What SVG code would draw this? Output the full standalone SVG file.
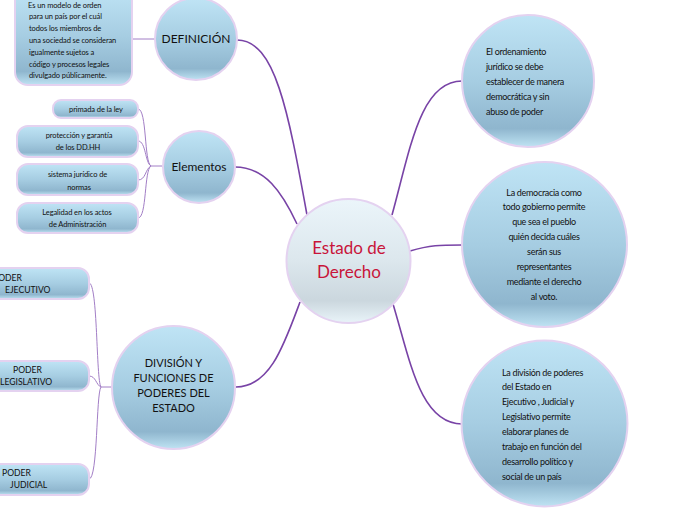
<svg xmlns="http://www.w3.org/2000/svg" width="696" height="520" viewBox="0 0 696 520">
<defs>
<linearGradient id="gBlue" x1="0" y1="0" x2="0" y2="1">
<stop offset="0" stop-color="#bfe4f5"/>
<stop offset="0.5" stop-color="#a6cde2"/>
<stop offset="0.86" stop-color="#8fb6ce"/>
<stop offset="1" stop-color="#bfe3f3"/>
</linearGradient>
<linearGradient id="gCenter" x1="0" y1="0" x2="0" y2="1">
<stop offset="0" stop-color="#ebf5fa"/>
<stop offset="0.5" stop-color="#dce7ed"/>
<stop offset="0.82" stop-color="#cbd7de"/>
<stop offset="1" stop-color="#e9f4f9"/>
</linearGradient>
</defs>
<style>
.node{fill:url(#gBlue);stroke:#e4d2f0;stroke-width:2}
.center{fill:url(#gCenter);stroke:#e4d2f0;stroke-width:2}
.main{fill:none;stroke:#7843a6;stroke-width:1.6}
.sub{fill:none;stroke:#a27ec6;stroke-width:1}
text{font-family:Lato,"Open Sans","Liberation Sans",sans-serif;fill:#111}
.t12{font-size:12px;text-anchor:middle}
.t11{font-size:11px;text-anchor:middle}
.s9{font-size:9px;letter-spacing:-0.3px}
.s75{font-size:7.5px;letter-spacing:-0.1px}
.cap{font-size:8.6px}
.mid{text-anchor:middle}
</style>
<g id="connectors">
<path class="main" d="M237,40 C275,40 288,110 307,215"/>
<path class="main" d="M235,167 C265,167 282,192 297,224"/>
<path class="main" d="M300,302 C284,345 270,387 236,387"/>
<path class="main" d="M392,215 C410,150 420,81 462,81"/>
<path class="main" d="M410,251 C430,245 440,245 462,245"/>
<path class="main" d="M393,304 C410,360 420,424 462,424"/>
<path class="sub" d="M132,39 L156,39"/>
<path class="sub" d="M162,166 L151,166"/>
<path class="sub" d="M138,109 C147,109 144,162 151,166"/>
<path class="sub" d="M138,141 C146,141 145,163 151,166"/>
<path class="sub" d="M138,180 C146,180 145,169 151,166"/>
<path class="sub" d="M138,218 C147,218 144,170 151,166"/>
<path class="sub" d="M112,387 L101,387"/>
<path class="sub" d="M89,283 C98,283 96,380 101,387"/>
<path class="sub" d="M89,376 C96,376 96,385 101,387"/>
<path class="sub" d="M89,479 C98,479 96,394 101,387"/>
</g>
<g id="center">
<circle class="center" cx="348.5" cy="261" r="62"/>
<text x="349" y="254" font-size="17" text-anchor="middle" style="fill:#c8143a">Estado de</text>
<text x="349" y="278" font-size="17" text-anchor="middle" style="fill:#c8143a">Derecho</text>
</g>
<g id="definicion">
<circle class="node" cx="196" cy="39" r="41"/>
<text class="t12" x="196" y="43">DEFINICIÓN</text>
</g>
<g id="definicion-texto">
<rect class="node" x="15" y="-12" width="117" height="97" rx="13"/>
<text class="s75" x="28" y="7.5">Es un modelo de orden</text>
<text class="s75" x="29" y="19.3">para un país por el cuál</text>
<text class="s75" x="29" y="31.1">todos los miembros de</text>
<text class="s75" x="29" y="42.9">una sociedad se consideran</text>
<text class="s75" x="29" y="54.7">igualmente sujetos a</text>
<text class="s75" x="29" y="66.5">código y procesos legales</text>
<text class="s75" x="29" y="78.3">divulgado públicamente.</text>
</g>
<g id="elementos">
<circle class="node" cx="199" cy="167" r="36"/>
<text class="t12" x="199" y="171">Elementos</text>
</g>
<g id="primada">
<rect class="node" x="53" y="100" width="85" height="18" rx="8"/>
<text class="s75 mid" x="96" y="111.5">primada de la ley</text>
</g>
<g id="proteccion">
<rect class="node" x="17" y="126" width="121" height="31" rx="11"/>
<text class="s75 mid" x="79" y="137.5">protección y garantía</text>
<text class="s75 mid" x="78" y="149.5">de los DD.HH</text>
</g>
<g id="sistema">
<rect class="node" x="17" y="164" width="121" height="31" rx="11"/>
<text class="s75 mid" x="77.5" y="176.5">sistema jurídico de</text>
<text class="s75 mid" x="79" y="189.5">normas</text>
</g>
<g id="legalidad">
<rect class="node" x="17" y="203" width="121" height="30" rx="11"/>
<text class="s75 mid" x="77" y="214.5">Legalidad en los actos</text>
<text class="s75 mid" x="77.5" y="226.5">de Administración</text>
</g>
<g id="division">
<circle class="node" cx="173.5" cy="387.5" r="61.5"/>
<text class="t11" x="173.5" y="367">DIVISIÓN Y</text>
<text class="t11" x="173.5" y="381.5">FUNCIONES DE</text>
<text class="t11" x="173.5" y="397">PODERES DEL</text>
<text class="t11" x="173.5" y="412">ESTADO</text>
</g>
<g id="ejecutivo">
<rect class="node" x="-30" y="268" width="119" height="31" rx="11"/>
<text class="cap" x="-7" y="280.5">PODER</text>
<text class="cap" x="5" y="292.5">EJECUTIVO</text>
</g>
<g id="legislativo">
<rect class="node" x="-30" y="361" width="119" height="30" rx="11"/>
<text class="cap" x="13" y="372.5">PODER</text>
<text class="cap" x="0" y="384.5">LEGISLATIVO</text>
</g>
<g id="judicial">
<rect class="node" x="-30" y="464" width="119" height="31" rx="11"/>
<text class="cap" x="2" y="475.5">PODER</text>
<text class="cap" x="10" y="487.5">JUDICIAL</text>
</g>
<g id="ordenamiento">
<circle class="node" cx="528" cy="81" r="66"/>
<text class="s9" x="486" y="55">El ordenamiento</text>
<text class="s9" x="486" y="70">jurídico se debe</text>
<text class="s9" x="486" y="85">establecer de manera</text>
<text class="s9" x="486" y="100">democrática y sin</text>
<text class="s9" x="486" y="115">abuso de poder</text>
</g>
<g id="democracia">
<circle class="node" cx="544.5" cy="244.5" r="82.5"/>
<text class="s9 mid" x="544" y="195.5">La democracia como</text>
<text class="s9 mid" x="544" y="210">todo gobierno permite</text>
<text class="s9 mid" x="544" y="225">que sea el pueblo</text>
<text class="s9 mid" x="544" y="240">quién decida cuáles</text>
<text class="s9 mid" x="544" y="255">serán sus</text>
<text class="s9 mid" x="544" y="270">representantes</text>
<text class="s9 mid" x="544" y="285">mediante el derecho</text>
<text class="s9 mid" x="544" y="300">al voto.</text>
</g>
<g id="division-poderes">
<circle class="node" cx="544.5" cy="423.5" r="83"/>
<text class="s9" x="502" y="375.5">La división de poderes</text>
<text class="s9" x="502" y="390">del Estado  en</text>
<text class="s9" x="502" y="405">Ejecutivo , Judicial y</text>
<text class="s9" x="502" y="420">Legislativo permite</text>
<text class="s9" x="502" y="434.5">elaborar planes de</text>
<text class="s9" x="502" y="450">trabajo en función del</text>
<text class="s9" x="502" y="465">desarrollo político y</text>
<text class="s9" x="502" y="480">social de un país</text>
</g>
</svg>
